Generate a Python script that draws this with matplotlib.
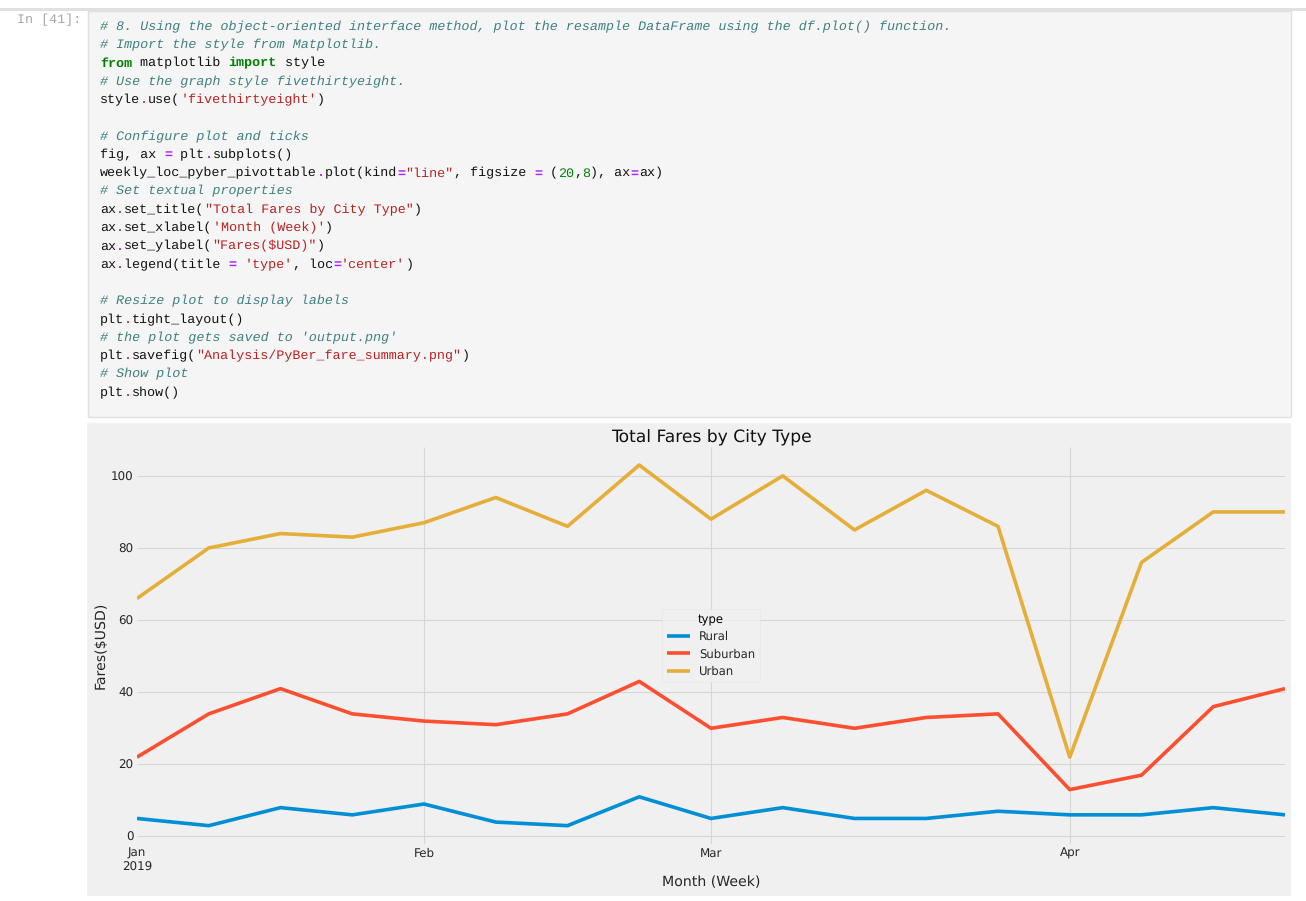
import numpy as np
import matplotlib.pyplot as plt
from matplotlib.patches import Rectangle

plt.style.use('fivethirtyeight')
plt.rcParams['text.hinting'] = 'none'
plt.rcParams['text.hinting_factor'] = 8

# 데이터 (주간 운임)
weeks = ['2019-01-06', '2019-01-13', '2019-01-20', '2019-01-27',
         '2019-02-03', '2019-02-10', '2019-02-17', '2019-02-24',
         '2019-03-03', '2019-03-10', '2019-03-17', '2019-03-24', '2019-03-31',
         '2019-04-07', '2019-04-14', '2019-04-21', '2019-04-28']
rural = [5, 3, 8, 6, 9, 4, 3, 11, 5, 8, 5, 5, 7, 6, 6, 8, 6]
suburban = [22, 34, 41, 34, 32, 31, 34, 43, 30, 33, 30, 33, 34, 13, 17, 36, 41]
urban = [66, 80, 84, 83, 87, 94, 86, 103, 88, 100, 85, 96, 86, 22, 76, 90, 90]
month_names = {'01': 'Jan\n2019', '02': 'Feb', '03': 'Mar', '04': 'Apr'}
y_ticks = [0, 20, 40, 60, 80, 100]

# 노트북 셀 코드: (문자열, 종류)
code_lines = [
    [("# 8. Using the object-oriented interface method, plot the resample DataFrame using the df.plot() function.", 'c')],
    [("# Import the style from Matplotlib.", 'c')],
    [("from", 'k'), (" matplotlib ", 'p'), ("import", 'k'), (" style", 'p')],
    [("# Use the graph style fivethirtyeight.", 'c')],
    [("style", 'p'), (".", 'o'), ("use(", 'p'), ("'fivethirtyeight'", 's'), (")", 'p')],
    [],
    [("# Configure plot and ticks", 'c')],
    [("fig, ax ", 'p'), ("=", 'o'), (" plt", 'p'), (".", 'o'), ("subplots()", 'p')],
    [("weekly_loc_pyber_pivottable", 'p'), (".", 'o'), ("plot(kind", 'p'), ("=", 'o'), ('"line"', 's'),
     (", figsize ", 'p'), ("=", 'o'), (" (", 'p'), ("20", 'n'), (",", 'p'), ("8", 'n'), ("), ax", 'p'), ("=", 'o'), ("ax)", 'p')],
    [("# Set textual properties", 'c')],
    [("ax", 'p'), (".", 'o'), ("set_title(", 'p'), ('"Total Fares by City Type"', 's'), (")", 'p')],
    [("ax", 'p'), (".", 'o'), ("set_xlabel(", 'p'), ("'Month (Week)'", 's'), (")", 'p')],
    [("ax", 'p'), (".", 'o'), ("set_ylabel(", 'p'), ('"Fares($USD)"', 's'), (")", 'p')],
    [("ax", 'p'), (".", 'o'), ("legend(title ", 'p'), ("=", 'o'), (" ", 'p'), ("'type'", 's'), (", loc", 'p'), ("=", 'o'), ("'center'", 's'), (")", 'p')],
    [],
    [("# Resize plot to display labels", 'c')],
    [("plt", 'p'), (".", 'o'), ("tight_layout()", 'p')],
    [("# the plot gets saved to 'output.png'", 'c')],
    [("plt", 'p'), (".", 'o'), ("savefig(", 'p'), ('"Analysis/PyBer_fare_summary.png"', 's'), (")", 'p')],
    [("# Show plot", 'c')],
    [("plt", 'p'), (".", 'o'), ("show()", 'p')],
]

colors = {'c': '#408080', 'k': '#008000', 's': '#BA2121', 'o': '#AA22FF', 'n': '#008000', 'p': '#111111'}

W, H = 1306, 901
fig = plt.figure(figsize=(W / 100, H / 100), dpi=100, facecolor='white')

# 픽셀 좌표용 배경 축
bg = fig.add_axes([0, 0, 1, 1], facecolor='white')
bg.set_xlim(0, W)
bg.set_ylim(H, 0)
bg.axis('off')
bg.add_patch(Rectangle((0, 8), W, 2.5, fc='#e0e0e0', ec='none'))
bg.add_patch(Rectangle((87.5, 10.5), 1203.5, 406.5, fc='#f5f5f5', ec='#e0e0e0', lw=1))
bg.add_patch(Rectangle((87, 423), 1204, 473, fc='#f0f0f0', ec='none'))
bg.text(17, 23.5, 'In [41]:', family='Liberation Mono', fontsize=9.65, color='#a8a8a8', va='baseline')

# 코드 셀 텍스트
char_w = 8.04
for i, tokens in enumerate(code_lines):
    col = 0
    y = 30 + i * 18.3
    for txt, kind in tokens:
        bg.text(100 + col * char_w, y, txt, family='Liberation Mono', fontsize=9.65,
                color=colors[kind], va='baseline', ha='left',
                style='italic' if kind == 'c' else 'normal',
                weight='bold' if kind in ('k', 'o') else 'normal')
        col += len(txt)

# 그래프 축
left, right, top, bottom = 137, 1285, 447, 843.7
ax = fig.add_axes([left / W, 1 - bottom / H, (right - left) / W, (bottom - top) / H], facecolor='#f0f0f0')
x = np.arange(len(weeks))
ax.plot(x, rural, label='Rural', lw=2.6)
ax.plot(x, suburban, label='Suburban', lw=2.6)
ax.plot(x, urban, label='Urban', lw=2.6)

tick_pos = [i for i, w in enumerate(weeks) if i == 0 or w[5:7] != weeks[i - 1][5:7]]
tick_lab = [month_names[weeks[i][5:7]] for i in tick_pos]
ax.set_xticks(tick_pos, tick_lab)
ax.set_yticks(y_ticks)
ax.set_xlim(0, len(weeks) - 1)
ax.set_ylim(-2, 108)
ax.tick_params(labelsize=8.6, pad=2.5, colors='#262626')
ax.tick_params(axis='x', pad=3)
ax.grid(True, color='#d6d6d6', lw=0.8)
ax.get_xgridlines()[0].set_visible(False)
for s in ax.spines.values():
    s.set_visible(False)

ax.set_title('Total Fares by City Type', fontsize=12.3, color='#111111', pad=3.3)
ax.set_xlabel('Month (Week)', fontsize=10.2, color='#262626', labelpad=2)
ax.set_ylabel('Fares($USD)', fontsize=10.2, color='#262626', labelpad=2.5)
leg = ax.legend(title='type', loc='center', fontsize=8.4, title_fontsize=8.4, labelcolor='#262626')
leg.get_frame().set_facecolor('#f0f0f0')
leg.get_frame().set_edgecolor('#e6e6e6')

fig.savefig('out.png', dpi=100, facecolor='white')
